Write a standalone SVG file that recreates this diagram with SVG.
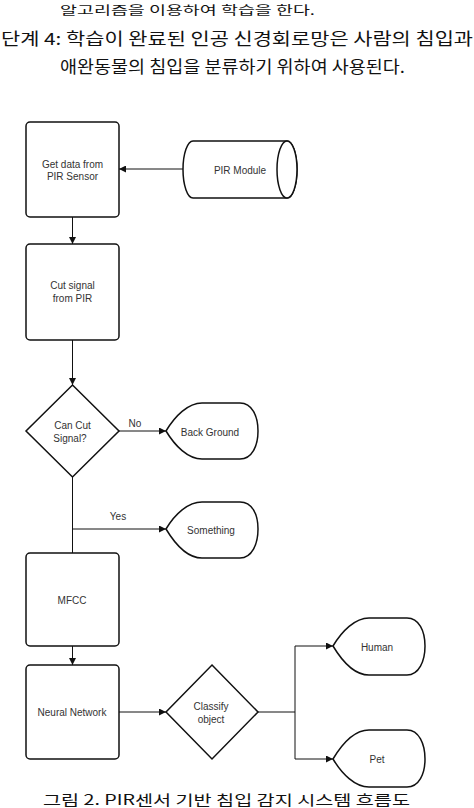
<svg xmlns="http://www.w3.org/2000/svg" width="474" height="808" viewBox="0 0 474 808">
<defs>
<style>
.s{fill:#fff;stroke:#111;stroke-width:1.5}
.c{fill:none;stroke:#111;stroke-width:1}
.t{font-family:"Liberation Sans",Arial,sans-serif;font-size:10px;fill:#333;text-anchor:middle;dominant-baseline:central}
.k{font-family:"Noto Sans CJK KR",sans-serif;font-size:16.5px;font-weight:400;fill:#111}
</style>
<marker id="a" viewBox="0 0 10 10" refX="10" refY="5" markerWidth="7" markerHeight="7" markerUnits="userSpaceOnUse" orient="auto">
<path d="M0,0 L10,5 L0,10 Z" fill="#111"/>
</marker>
</defs>
<rect width="474" height="808" fill="#fff"/>
<g id="heading">
<text class="k" x="60" y="15" textLength="255" lengthAdjust="spacingAndGlyphs" style="font-size:12.5px">알고리즘을 이용하여 학습을 한다.</text>
<text class="k" x="1" y="45" textLength="472" lengthAdjust="spacingAndGlyphs">단계 4: 학습이   완료된   인공   신경회로망은   사람의   침입과</text>
<text class="k" x="60" y="73" textLength="345" lengthAdjust="spacingAndGlyphs">애완동물의 침입을 분류하기 위하여 사용된다.</text>
</g>
<g id="connectors">
<path class="c" d="M183,169 H119" marker-end="url(#a)"/>
<path class="c" d="M72.5,217 V244" marker-end="url(#a)"/>
<path class="c" d="M72.5,340 V385" marker-end="url(#a)"/>
<path class="c" d="M119,431 H166" marker-end="url(#a)"/>
<path class="c" d="M72.5,477 V553"/>
<path class="c" d="M72.5,529 H166" marker-end="url(#a)"/>
<path class="c" d="M72.5,646 V665" marker-end="url(#a)"/>
<path class="c" d="M119,712 H166" marker-end="url(#a)"/>
<path class="c" d="M258,712 H295"/>
<path class="c" d="M295,646 V759"/>
<path class="c" d="M295,646 H333" marker-end="url(#a)"/>
<path class="c" d="M295,759 H333" marker-end="url(#a)"/>
<text class="t" x="135" y="423">No</text>
<text class="t" x="118" y="516">Yes</text>
</g>
<g id="get-data">
<rect class="s" x="26" y="122" width="93" height="95" rx="4"/>
<text class="t" x="72.5" y="164">Get data from</text>
<text class="t" x="72.5" y="176">PIR Sensor</text>
</g>
<g id="pir-module">
<path class="s" d="M193,141 H287 A10,28.5 0 0 1 287,198 H193 A10,28.5 0 0 1 193,141 Z"/>
<ellipse class="s" cx="287" cy="169.5" rx="10" ry="28.5"/>
<text class="t" x="240" y="170">PIR Module</text>
</g>
<g id="cut-signal">
<rect class="s" x="26" y="244" width="93" height="96" rx="4"/>
<text class="t" x="72.5" y="285">Cut signal</text>
<text class="t" x="72.5" y="298">from PIR</text>
</g>
<g id="can-cut">
<path class="s" d="M72.5,385 L119,431 L72.5,477 L26,431 Z"/>
<text class="t" x="72.5" y="425">Can Cut</text>
<text class="t" x="70" y="438">Signal?</text>
</g>
<g id="back-ground">
<path class="s" d="M166,431 C175,416 188,403 202,403 L240,403 C252,403 258,416 258,431 C258,446 252,459 240,459 L202,459 C188,459 175,446 166,431 Z"/>
<text class="t" x="210" y="432">Back Ground</text>
</g>
<g id="something">
<path class="s" d="M166,529 C175,514 188,502 202,502 L240,502 C252,502 258,514 258,529 C258,544 252,558 240,558 L202,558 C188,558 175,544 166,529 Z"/>
<text class="t" x="211" y="530">Something</text>
</g>
<g id="mfcc">
<rect class="s" x="26" y="553" width="93" height="93" rx="4"/>
<text class="t" x="72" y="600">MFCC</text>
</g>
<g id="neural-network">
<rect class="s" x="26" y="665" width="93" height="94" rx="4"/>
<text class="t" x="72" y="712">Neural Network</text>
</g>
<g id="classify">
<path class="s" d="M212,665 L258,712 L212,759 L166,712 Z"/>
<text class="t" x="211" y="706">Classify</text>
<text class="t" x="211" y="719">object</text>
</g>
<g id="human">
<path class="s" d="M333,646 C342,631 355,618 369,618 L407,618 C419,618 425,631 425,646 C425,661 419,675 407,675 L369,675 C355,675 342,661 333,646 Z"/>
<text class="t" x="377" y="647">Human</text>
</g>
<g id="pet">
<path class="s" d="M333,759 C342,744 355,730 369,730 L407,730 C419,730 425,744 425,759 C425,774 419,787 407,787 L369,787 C355,787 342,774 333,759 Z"/>
<text class="t" x="377" y="759">Pet</text>
</g>
<g id="caption">
<text class="k" x="43" y="805" textLength="367" lengthAdjust="spacingAndGlyphs" style="font-size:14px">그림 2. PIR센서 기반 침입 감지 시스템 흐름도</text>
</g>
</svg>
